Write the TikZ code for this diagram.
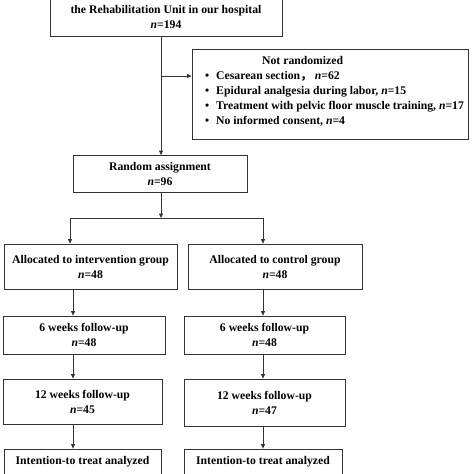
\documentclass[tikz,border=0pt]{standalone}
\usepackage{fontspec}
\setmainfont{Liberation Serif}
\newfontfamily\cjkfont{Noto Sans CJK SC}
\usetikzlibrary{arrows.meta,calc}
\begin{document}
\begin{tikzpicture}[x=1pt,y=-1pt,
  box/.style={draw=black!80,line width=0.8pt,rectangle,inner sep=0pt,align=center,
    font=\fontsize{11.7}{15}\selectfont\bfseries},
  arr/.style={draw=black!80,line width=0.8pt,-{Triangle[length=4.5pt,width=4pt]}},
  ln/.style={draw=black!80,line width=0.8pt}]
\useasboundingbox (0,0) rectangle (474,474);
\fill[white] (0,0) rectangle (474,474);
\clip (0,0) rectangle (474,474);
% boxes
\node[box,minimum width=232,minimum height=39] (top) at (166,17)
  {the Rehabilitation Unit in our hospital\\\textit{n}=194};
\node[box,minimum width=276,minimum height=90] (nr) at (330,94) {};
\node[font=\fontsize{11.7}{15}\selectfont\bfseries,align=left,anchor=north west,inner sep=0pt] (nrt) at (205,56)
  {\hspace*{57pt}Not randomized\\
   \textbullet\hspace{4pt} Cesarean section{\cjkfont ，}\hspace{3pt}\textit{n}=62\\
   \textbullet\hspace{4pt} Epidural analgesia during labor, \textit{n}=15\\
   \textbullet\hspace{4pt} Treatment with pelvic floor muscle training, \textit{n}=17\\
   \textbullet\hspace{4pt} No informed consent, \textit{n}=4};
\node[box,minimum width=174,minimum height=37] (rand) at (160,174)
  {Random assignment\\\textit{n}=96};
\node[box,minimum width=173,minimum height=45] (a1) at (90.5,266.5)
  {Allocated to intervention group\\\textit{n}=48};
\node[box,minimum width=174,minimum height=45] (a2) at (275,266.5)
  {Allocated to control group\\\textit{n}=48};
\node[box,minimum width=162,minimum height=38] (f1) at (84,335)
  {6 weeks follow-up\\\textit{n}=48};
\node[box,minimum width=161,minimum height=38] (f2) at (264.5,335)
  {6 weeks follow-up\\\textit{n}=48};
\node[box,minimum width=159,minimum height=45] (g1) at (82.5,401.5)
  {12 weeks follow-up\\\textit{n}=45};
\node[box,minimum width=161,minimum height=47] (g2) at (264.5,402.5)
  {12 weeks follow-up\\\textit{n}=47};
\node[box,minimum width=157,minimum height=26] (i1) at (82.5,462)
  {Intention-to treat analyzed};
\node[box,minimum width=158,minimum height=26] (i2) at (263,462)
  {Intention-to treat analyzed};
% coordinates
\coordinate (br1) at (161,76);
\coordinate (split) at (161,218);
\coordinate (Lx) at (70,0);
\coordinate (Rx) at (263,0);
\coordinate (Lc) at (73,0);
% connectors
\draw[arr] (top.south -| br1) -- (rand.north -| br1);
\draw[arr] (br1) -- (nr.west |- br1);
\draw[arr] (rand.south -| split) -- (split);
\draw[ln] (Lx |- split) -- (Rx |- split);
\draw[arr] (Lx |- split) -- (Lx |- a1.north);
\draw[arr] (Rx |- split) -- (Rx |- a2.north);
\draw[arr] (Lc |- a1.south) -- (Lc |- f1.north);
\draw[arr] (Rx |- a2.south) -- (Rx |- f2.north);
\draw[arr] (Lc |- f1.south) -- (Lc |- g1.north);
\draw[arr] (Rx |- f2.south) -- (Rx |- g2.north);
\draw[arr] (Lc |- g1.south) -- (Lc |- i1.north);
\draw[arr] (Rx |- g2.south) -- (Rx |- i2.north);
\end{tikzpicture}
\end{document}
